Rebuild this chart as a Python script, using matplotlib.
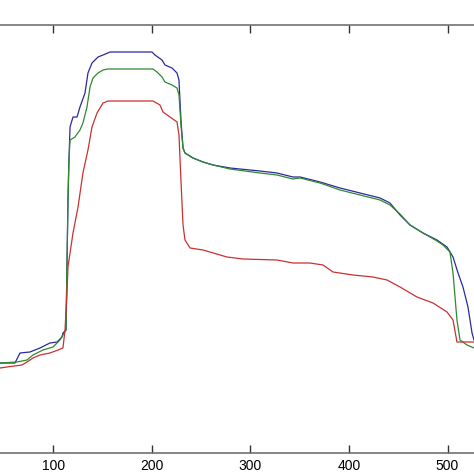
import matplotlib
matplotlib.use("Agg")
import matplotlib.pyplot as plt

# x positions (data units) and y values (arbitrary units) for each series
blue_x = [45.7, 60.9, 66.0, 76.1, 86.3, 96.4, 103.6, 108.6, 109.6, 112.7, 114.7, 115.7, 116.8,
          119.8, 123.9, 126.9, 132.0, 135.0, 139.1, 145.2, 150.3, 157.4, 200.0, 203.0, 210.2,
          213.2, 220.3, 225.4, 227.4, 229.4, 231.5, 233.5, 241.6, 251.8, 261.9, 279.2, 309.6,
          326.9, 343.1, 350.3, 370.6, 390.9, 411.2, 431.5, 441.6, 451.8, 461.9, 475.1, 489.3,
          499.5, 505.6, 510.7, 515.7, 520.8, 524.9, 526.9]
blue_y = [90, 90, 100, 101, 105, 110, 111, 116, 120, 123, 253, 293, 326,
          336, 336, 346, 360, 380, 390, 396, 398, 401, 401, 398, 393,
          388, 385, 380, 373, 333, 305, 300, 295, 291, 288, 285, 282,
          280, 276, 276, 271, 265, 260, 255, 250, 238, 228, 220, 213,
          206, 196, 180, 166, 146, 120, 113]

green_x = [45.7, 62.9, 73.1, 79.2, 89.3, 99.5, 106.6, 109.6, 112.7, 114.7, 115.7, 116.8, 121.8,
           126.9, 129.9, 134.0, 137.1, 140.1, 145.2, 150.3, 155.3, 201.0, 205.1, 210.2, 213.2,
           220.3, 225.4, 227.4, 229.4, 231.5, 233.5, 241.6, 251.8, 261.9, 279.2, 309.6, 326.9,
           343.1, 350.3, 370.6, 390.9, 411.2, 431.5, 441.6, 451.8, 461.9, 475.1, 489.3, 495.4,
           502.5, 505.6, 509.6, 512.7, 519.8, 526.9]
green_y = [90, 91, 93, 98, 103, 106, 113, 118, 123, 253, 293, 313, 316,
           323, 330, 346, 366, 375, 380, 383, 384, 384, 381, 376, 371,
           368, 365, 358, 328, 305, 300, 295, 291, 288, 284, 280, 278,
           274, 275, 270, 263, 258, 253, 248, 239, 228, 220, 212, 208,
           201, 180, 133, 113, 108, 105]

red_x = [45.7, 52.8, 68.0, 73.1, 79.2, 86.3, 96.4, 104.6, 109.6, 111.7, 113.7, 114.7, 119.8,
         124.9, 129.9, 135.0, 139.1, 144.2, 150.3, 155.3, 201.0, 208.1, 211.2, 218.3, 225.4,
         227.4, 229.4, 231.5, 233.5, 238.6, 251.8, 276.1, 292.4, 326.9, 343.1, 360.4, 373.6,
         383.8, 404.1, 424.4, 438.6, 451.8, 469.0, 485.3, 499.5, 505.6, 509.6, 526.9]
red_y = [85, 86, 88, 91, 95, 98, 100, 103, 105, 123, 160, 186, 220,
         246, 280, 303, 326, 340, 350, 352, 352, 348, 341, 336, 331,
         318, 273, 228, 213, 205, 203, 196, 194, 193, 190, 190, 188,
         181, 178, 176, 173, 166, 156, 150, 141, 133, 111, 111]

x_ticks = [100, 200, 300, 400, 500]

fig = plt.figure(figsize=(4.74, 4.74), dpi=100)
ax = fig.add_axes([0.0, 21 / 474, 1.0, 428 / 474])

ax.plot(blue_x, blue_y, color="#2a2aa0", lw=0.9)
ax.plot(green_x, green_y, color="#2f8a2f", lw=0.9)
ax.plot(red_x, red_y, color="#cc3030", lw=0.9)

ax.set_xlim(45.7, 526.9)
ax.set_ylim(0, 428)
ax.set_xticks(x_ticks)
ax.set_xticklabels([str(t) for t in x_ticks], fontfamily="Liberation Sans", fontsize=10)
ax.set_yticks([])
ax.xaxis.set_ticks_position("both")
ax.tick_params(axis="x", which="major", direction="in", top=True, bottom=True,
               labeltop=False, length=5.5, width=1.0, color="#333333", pad=4)
for s in ["left", "right"]:
    ax.spines[s].set_visible(False)
for s in ["top", "bottom"]:
    ax.spines[s].set_color("#666666")
    ax.spines[s].set_linewidth(1.1)

fig.savefig("out.png", dpi=100)
